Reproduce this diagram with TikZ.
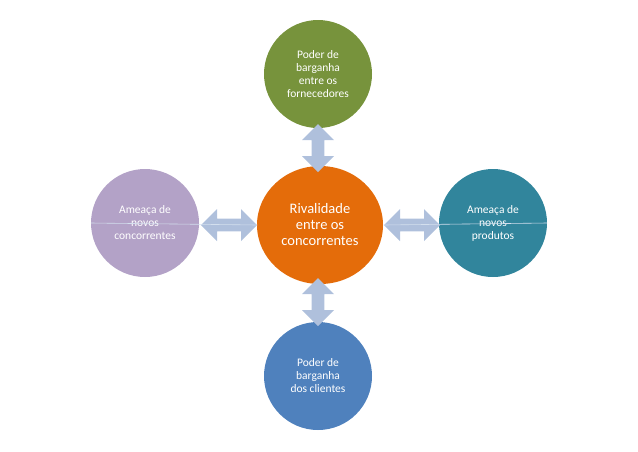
\documentclass[tikz,border=0pt]{standalone}
\usepackage{fontspec}
\setmainfont{Carlito}
\usetikzlibrary{shapes.geometric,shapes.arrows}
\definecolor{cor}{HTML}{E46C0A}
\definecolor{cgr}{HTML}{77933C}
\definecolor{cbl}{HTML}{4F81BD}
\definecolor{cpu}{HTML}{B3A2C7}
\definecolor{cte}{HTML}{31859C}
\definecolor{car}{HTML}{AFC0DC}
\begin{document}
\begin{tikzpicture}[x=1pt,y=-1pt,
  circ/.style={circle,minimum size=108pt,inner sep=0pt,text=white,align=center,font=\fontsize{11.5}{13}\selectfont},
  darr/.style={double arrow,fill=car,draw=none,minimum height=56pt,minimum width=32pt,double arrow head extend=7pt,inner sep=4.5pt}]
\useasboundingbox (0,0) rectangle (638,451);
\node[ellipse,fill=cor,minimum width=126pt,minimum height=118pt,text=white,align=center,font=\fontsize{14.5}{16}\selectfont] (c) at (320,225) {Rivalidade\\entre os\\concorrentes};
\node[circ,fill=cgr] (t) at (318,74) {Poder de\\barganha\\entre os\\fornecedores};
\node[circ,fill=cbl] (b) at (318,376) {Poder de\\barganha\\dos clientes};
\node[circ,fill=cpu] (l) at (145,223) {Ameaça de\\novos\\concorrentes};
\node[circ,fill=cte] (r) at (493,223) {Ameaça de\\novos\\produtos};
\node[darr] (al) at (229,225) {};
\node[darr] (ar) at (412,225) {};
\node[darr,rotate=90,minimum height=48pt] (at) at (318,148) {};
\node[darr,rotate=90,minimum height=48pt] (ab) at (318,302) {};
\draw[white!75!cbl,line width=0.6pt] (l.west) -- (al.east);
\draw[white!75!cbl,line width=0.6pt] (ar.west) -- (r.east);
\end{tikzpicture}
\end{document}
